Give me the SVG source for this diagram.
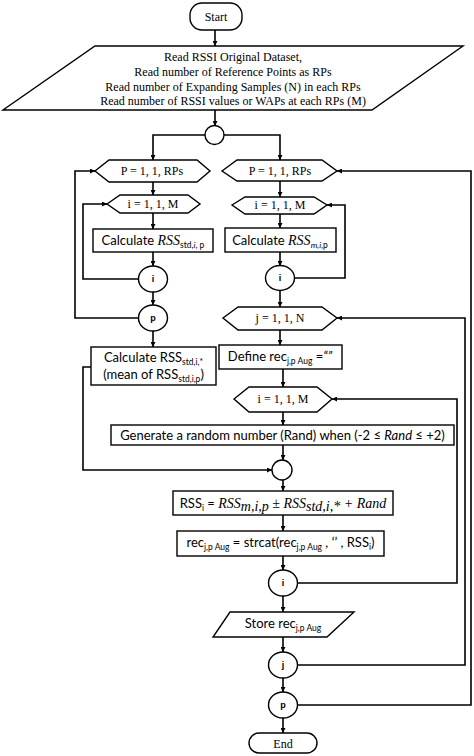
<svg xmlns="http://www.w3.org/2000/svg" width="474" height="756" viewBox="0 0 474 756">
<defs>
<marker id="ah" viewBox="0 0 10 10" refX="10" refY="5" markerWidth="5" markerHeight="5" orient="auto" markerUnits="userSpaceOnUse">
<path d="M0,0 L10,5 L0,10 z" fill="#000"/>
</marker>
<style>
.s{fill:#fff;stroke:#000;stroke-width:1.4}
.c{fill:none;stroke:#000;stroke-width:1.6;marker-end:url(#ah)}
.sf{font-family:"Liberation Serif","Times New Roman",serif;font-size:12px;fill:#000}
.ss{font-family:Lato,"Liberation Sans",sans-serif;font-size:13px;fill:#000}
.m{font-family:"Liberation Serif",serif;font-style:italic;font-size:14px}
.sub{font-size:8.5px}
.cl{font-family:"Liberation Sans",sans-serif;font-size:9px;font-weight:bold;fill:#000}
</style>
</defs>
<rect width="474" height="756" fill="#fff"/>

<g id="connectors">
<path class="c" d="M215,30 V46"/>
<path class="c" d="M215,110 V126"/>
<path class="c" d="M205,135 H153 V160"/>
<path class="c" d="M224,135 H280 V160"/>
<path class="c" d="M153,182 V195"/>
<path class="c" d="M153,213 V229"/>
<path class="c" d="M153,252 V266"/>
<path class="c" d="M153,292 V305"/>
<path class="c" d="M139,279 H83 V204 H107"/>
<path class="c" d="M139,318 H75 V171 H95"/>
<path class="c" d="M153,331 V347"/>
<path class="c" d="M91,367 H83 V470 H272"/>
<path class="c" d="M280,181 V197"/>
<path class="c" d="M280,214 V228"/>
<path class="c" d="M280,252 V266"/>
<path class="c" d="M294,278 H345 V205 H327"/>
<path class="c" d="M280,290 V307"/>
<path class="c" d="M280,330 V345"/>
<path class="c" d="M283,369 V387"/>
<path class="c" d="M283,412 V425"/>
<path class="c" d="M283,445 V460"/>
<path class="c" d="M283,480 V491"/>
<path class="c" d="M283,515 V531"/>
<path class="c" d="M283,556 V570"/>
<path class="c" d="M297.5,583 H457 V399 H332"/>
<path class="c" d="M283,596 V612"/>
<path class="c" d="M283,637 V652"/>
<path class="c" d="M297.5,665 H465 V318 H337"/>
<path class="c" d="M283,678 V692"/>
<path class="c" d="M297.5,705 H471 V171 H337"/>
<path class="c" d="M283,718 V733"/>
</g>

<g id="start">
<rect class="s" x="190" y="3" width="52" height="27" rx="12"/>
<text class="sf" x="216" y="21" text-anchor="middle" font-size="13">Start</text>
</g>

<g id="input">
<polygon class="s" points="95,46 463,46 372,110 3,110"/>
<text class="sf" x="233" y="61" text-anchor="middle">Read RSSI Original Dataset,</text>
<text class="sf" x="233" y="76" text-anchor="middle">Read number of Reference Points as RPs</text>
<text class="sf" x="233" y="91" text-anchor="middle">Read number of Expanding Samples (N) in each RPs</text>
<text class="sf" x="233" y="105" text-anchor="middle">Read number of RSSI values or WAPs at each RPs (M)</text>
</g>

<g id="split">
<circle class="s" cx="214.5" cy="135" r="9.5"/>
</g>

<g id="loopP1">
<polygon class="s" points="95,171 109,160 197,160 210,171 197,182 109,182"/>
<text class="sf" x="152" y="175" text-anchor="middle">P = 1, 1, RPs</text>
</g>
<g id="loopI1">
<polygon class="s" points="107,204 120,195 188,195 200,204 188,213 120,213"/>
<text class="sf" x="153" y="208" text-anchor="middle">i = 1, 1, M</text>
</g>
<g id="calcStd">
<rect class="s" x="93" y="229" width="120" height="23"/>
<text class="ss" x="153" y="245" text-anchor="middle">Calculate <tspan class="m">RSS</tspan><tspan class="sub" dy="3">std,<tspan font-style="italic">i</tspan>, p</tspan></text>
</g>
<g id="endI1">
<ellipse class="s" cx="153" cy="279" rx="14.5" ry="13"/>
<text class="cl" x="153" y="282" text-anchor="middle">i</text>
</g>
<g id="endP1">
<ellipse class="s" cx="153" cy="318" rx="14.5" ry="13"/>
<text class="cl" x="153" y="321" text-anchor="middle">p</text>
</g>
<g id="calcMean">
<rect class="s" x="91" y="347" width="125" height="38"/>
<text class="ss" x="153.5" y="362" text-anchor="middle">Calculate RSS<tspan class="sub" dy="3">std,i,*</tspan></text>
<text class="ss" x="153.5" y="379" text-anchor="middle">(mean of RSS<tspan class="sub" dy="3">std,i,p</tspan><tspan dy="-3">)</tspan></text>
</g>

<g id="loopP2">
<polygon class="s" points="222,171 237,160 322,160 337,171 322,181 237,181"/>
<text class="sf" x="280" y="175" text-anchor="middle">P = 1, 1, RPs</text>
</g>
<g id="loopI2">
<polygon class="s" points="232,205 245,197 314,197 327,205 314,214 245,214"/>
<text class="sf" x="280" y="209" text-anchor="middle">i = 1, 1, M</text>
</g>
<g id="calcMean2">
<rect class="s" x="225" y="228" width="111" height="24"/>
<text class="ss" x="280" y="245" text-anchor="middle">Calculate <tspan class="m">RSS</tspan><tspan class="sub" dy="3"><tspan font-style="italic">m,i,</tspan>p</tspan></text>
</g>
<g id="endI2">
<ellipse class="s" cx="280" cy="278" rx="14.5" ry="12.5"/>
<text class="cl" x="280" y="281" text-anchor="middle">i</text>
</g>
<g id="loopJ">
<polygon class="s" points="223,318 238,307 322,307 337,318 322,330 238,330"/>
<text class="sf" x="280" y="322" text-anchor="middle">j = 1, 1, N</text>
</g>
<g id="defineRec">
<rect class="s" x="219" y="345" width="123" height="24"/>
<text class="ss" x="280" y="361" text-anchor="middle">Define rec<tspan class="sub" dy="3">j,p Aug</tspan><tspan dy="-3"> =</tspan><tspan font-style="italic">“”</tspan></text>
</g>
<g id="loopI3">
<polygon class="s" points="234,399 249,387 317,387 332,399 317,412 249,412"/>
<text class="sf" x="283" y="403" text-anchor="middle">i = 1, 1, M</text>
</g>
<g id="genRand">
<rect class="s" x="111" y="425" width="343" height="20"/>
<text class="ss" x="282.5" y="439.5" text-anchor="middle">Generate a random number (Rand) when (-2 ≤ <tspan font-style="italic">Rand</tspan> ≤ +2)</text>
</g>
<g id="merge">
<circle class="s" cx="282" cy="470" r="10"/>
</g>
<g id="rssI">
<rect class="s" x="173" y="491" width="220" height="24"/>
<text class="ss" x="283" y="508" text-anchor="middle">RSS<tspan class="sub" dy="3">i</tspan><tspan dy="-3"> = </tspan><tspan class="m">RSS</tspan><tspan class="m" font-size="10" dy="3">m,i,p</tspan><tspan class="m" font-style="normal" dy="-3"> ± </tspan><tspan class="m">RSS</tspan><tspan class="m" font-size="10" dy="3">std,i,*</tspan><tspan class="m" font-style="normal" dy="-3"> + </tspan><tspan class="m">Rand</tspan></text>
</g>
<g id="strcat">
<rect class="s" x="177" y="531" width="207" height="25"/>
<text class="ss" x="280.5" y="547" text-anchor="middle">rec<tspan class="sub" dy="3">j,p Aug</tspan><tspan dy="-3"> = strcat(rec</tspan><tspan class="sub" dy="3">j,p Aug</tspan><tspan dy="-3"> , ‘’ , RSS</tspan><tspan class="sub" dy="3">i</tspan><tspan dy="-3">)</tspan></text>
</g>
<g id="endI3">
<ellipse class="s" cx="283" cy="583" rx="14.5" ry="13"/>
<text class="cl" x="283" y="586" text-anchor="middle">i</text>
</g>
<g id="store">
<polygon class="s" points="230,612 354,612 327,637 213,637"/>
<text class="ss" x="283" y="628" text-anchor="middle">Store rec<tspan class="sub" dy="3">j,p Aug</tspan></text>
</g>
<g id="endJ">
<ellipse class="s" cx="283" cy="665" rx="14.5" ry="13"/>
<text class="cl" x="283" y="668" text-anchor="middle">j</text>
</g>
<g id="endP2">
<ellipse class="s" cx="283" cy="705" rx="14.5" ry="13"/>
<text class="cl" x="283" y="708" text-anchor="middle">p</text>
</g>
<g id="end">
<rect class="s" x="249" y="733" width="68" height="20" rx="10"/>
<text class="sf" x="283" y="748" text-anchor="middle" font-size="14">End</text>
</g>
</svg>
